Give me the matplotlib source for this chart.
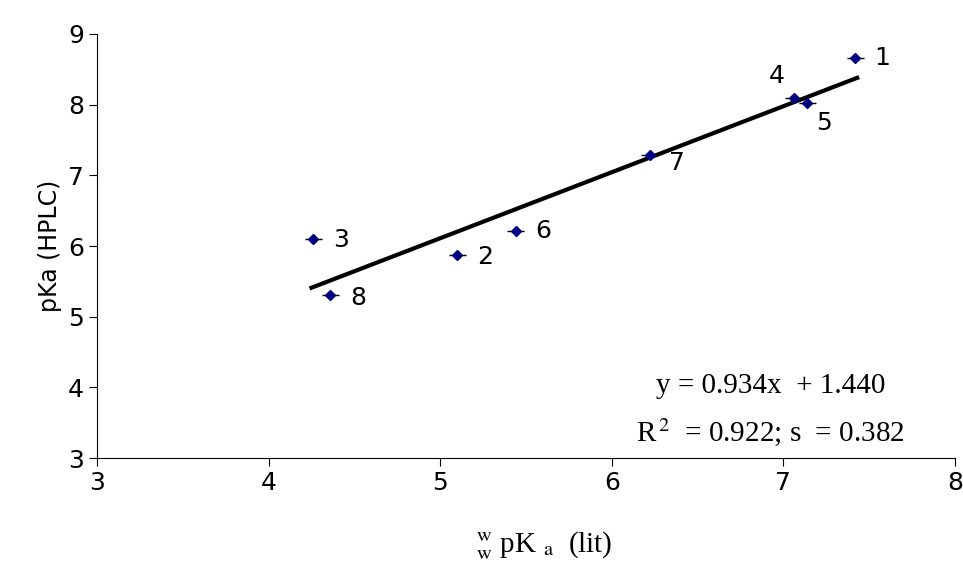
import matplotlib
matplotlib.use("Agg")
import matplotlib.pyplot as plt
import numpy as np

plt.rcParams["mathtext.fontset"] = "stix"

labels = ["1", "2", "3", "4", "5", "6", "7", "8"]
x_lit = [7.42, 5.10, 4.26, 7.06, 7.14, 5.44, 6.22, 4.36]
y_hplc = [8.66, 5.87, 6.10, 8.09, 8.02, 6.21, 7.29, 5.31]
slope, intercept = 0.934, 1.440
label_offsets = {"1": (19, 0), "2": (20, -1), "3": (20, -1), "4": (-12, 16),
                 "5": (12, -14), "6": (20, 0), "7": (20, -6), "8": (20, -2)}

fig = plt.figure(figsize=(9.63, 5.8), dpi=100)
ax = fig.add_axes([0.1007, 0.2103, 0.891, 0.7311])
ax.errorbar(x_lit, y_hplc, xerr=0.05, fmt="D", color="#000080", ms=5,
            ecolor="black", elinewidth=1, capsize=0, zorder=3)
xs = np.array([min(x_lit) - 0.01, max(x_lit) + 0.01])
ax.plot(xs, slope * xs + intercept, color="black", lw=3)
for l, xv, yv in zip(labels, x_lit, y_hplc):
    dx, dy = label_offsets[l]
    ax.annotate(l, (xv, yv), xytext=(dx, dy), textcoords="offset points",
                ha="center", va="center", fontsize=18, family="DejaVu Sans")
ax.set_xlim(3, 8)
ax.set_ylim(3, 9)
ax.set_xticks(range(3, 9))
ax.set_yticks(range(3, 10))
for s in ["top", "right"]:
    ax.spines[s].set_visible(False)
ax.tick_params(labelsize=18, direction="out", length=6)
ax.set_ylabel("pKa (HPLC)", fontsize=17)
fig.text(0.80, 0.335, "y = 0.934x  + 1.440", ha="center", va="center",
         fontsize=21, family="Liberation Serif")
fig.text(0.80, 0.255, r"R$^{\,2}$  = 0.922; s  = 0.382", ha="center", va="center",
         fontsize=21, family="Liberation Serif")
fig.text(0.565, 0.06, r"$^{\mathrm{w}}_{\mathrm{w}}$ pK $_{\mathrm{a}}$  (lit)",
         ha="center", va="center", fontsize=21, family="Liberation Serif")
fig.savefig("out.png", dpi=100)
